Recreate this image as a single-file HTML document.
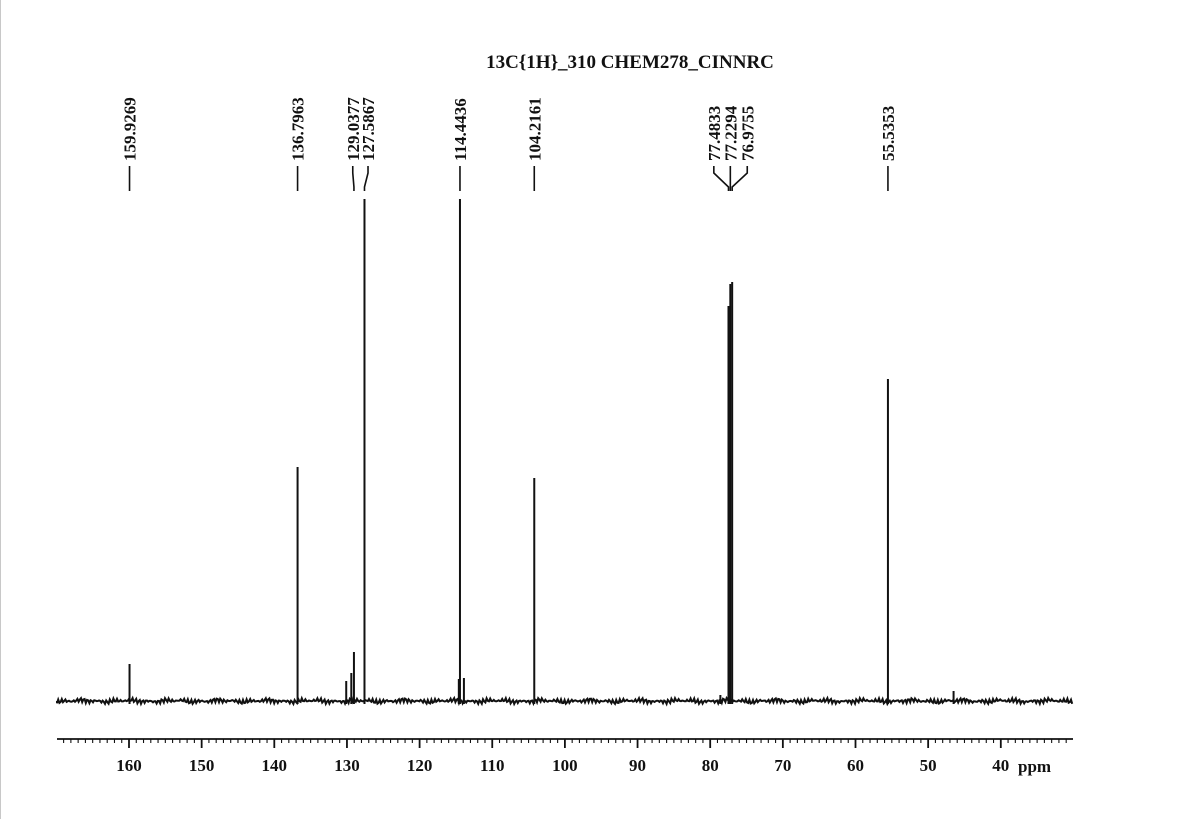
<!DOCTYPE html>
<html><head><meta charset="utf-8"><style>
html,body{margin:0;padding:0;background:#fff;}
svg{display:block;}
text{font-family:"Liberation Serif",serif;font-weight:bold;fill:#111;}
</style></head><body>
<svg width="1182" height="819" viewBox="0 0 1182 819">
<rect x="0" y="0" width="1182" height="819" fill="#fff"/>
<line x1="0.5" y1="0" x2="0.5" y2="819" stroke="#c8c8c8"/>
<text x="630" y="68" font-size="19" text-anchor="middle">13C{1H}_310 CHEM278_CINNRC</text>
<g id="axis"></g>
<g id="spec"></g>
<g id="labels"></g>
</svg>
<script>
// data
const peakPpm    = [159.9269,136.7963,130.1,129.4,129.0377,127.5867,114.6,114.4436,113.9,104.2161,77.4833,77.2294,76.9755,55.5353,46.5,78.6];
const peakHeight = [37,234,20,28,49,502,22,502,23,223,395,417,419,322,10,6];
const labelPpm   = [159.9269,136.7963,129.0377,127.5867,114.4436,104.2161,77.4833,77.2294,76.9755,55.5353];
const labelText  = ["159.9269","136.7963","129.0377","127.5867","114.4436","104.2161","77.4833","77.2294","76.9755","55.5353"];
const labelPos   = [159.9269,136.7963,129.2,127.1,114.4436,104.2161,79.5,77.2294,74.9,55.5353];
const majorTicks = [160,150,140,130,120,110,100,90,80,70,60,50,40];

const ns="http://www.w3.org/2000/svg";
const X0=129, PX=7.265, BASE=701;
const x=v=>X0+(160-v)*PX;
const y=h=>BASE-h;
function mk(tag,attrs,parent){const e=document.createElementNS(ns,tag);for(const k in attrs)e.setAttribute(k,attrs[k]);parent.appendChild(e);return e;}

// axis
const ax=document.getElementById('axis');
const axl=mk('line',{x1:57,y1:739,x2:1073,y2:739,stroke:'#111','stroke-width':1.8},ax);


for(let v=30;v<=170;v++){
  const px=x(v); if(px<57||px>1073) continue;
  const major=v%10===0;
  const t=mk('line',{x1:px,y1:739,x2:px,y2:major?748:743,stroke:'#111','stroke-width':major?1.8:1.1},ax);
  
  
}
majorTicks.forEach(v=>{
  const t=mk('text',{x:x(v),y:771,'font-size':17,'text-anchor':'middle'},ax);
  t.textContent=v;
  
  
});
const u=mk('text',{x:1018,y:772,'font-size':17},ax);u.textContent='ppm';



// spectrum baseline (noise decoration)
const sp=document.getElementById('spec');
let d='M57 '+BASE;
for(let px=57;px<=1073;px+=1.2){
  const n=Math.sin(px*1.7)*1.3+Math.sin(px*3.3+1)*1.0+Math.sin(px*0.37)*0.6+Math.sin(px*5.1)*0.6;
  d+=' L'+px.toFixed(1)+' '+(BASE+n).toFixed(1);
}
const bl=mk('path',{d:d,fill:'none',stroke:'#111','stroke-width':2},sp);


peakPpm.forEach((p,i)=>{
  const l=mk('line',{x1:x(p),y1:BASE+3,x2:x(p),y2:y(peakHeight[i]),stroke:'#111','stroke-width':2},sp);
  
  
});

// labels
const lb=document.getElementById('labels');
labelPpm.forEach((p,i)=>{
  const lx=x(labelPos[i]), px=x(p);
  const g=mk('g',{},lb);
  
  
  const t=mk('text',{transform:`translate(${lx+6},161) rotate(-90)`,'font-size':17},g);
  t.textContent=labelText[i];
  if(Math.abs(lx-px)<0.5){
    mk('line',{x1:px,y1:166,x2:px,y2:191,stroke:'#111','stroke-width':1.6},g);
  } else {
    mk('path',{d:`M${lx} 166 L${lx} 173 L${px} 187 L${px} 191`,fill:'none',stroke:'#111','stroke-width':1.6},g);
  }
});
</script>
</body></html>
